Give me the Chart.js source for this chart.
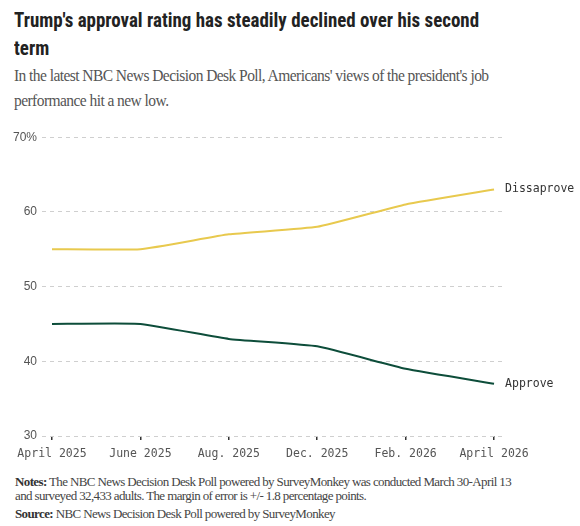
<!DOCTYPE html>
<html>
<head>
<meta charset="utf-8">
<script src="https://cdn.jsdelivr.net/npm/chart.js@4.4.1/dist/chart.umd.min.js"></script>
<style>
    body { margin: 0; background: #fff; width: 580px; height: 526px; position: relative; overflow: hidden; }
    .title { position: absolute; left: 14px; top: 7px; white-space: nowrap; font-family: "Liberation Sans Narrow", "Roboto", sans-serif; font-stretch: condensed; font-weight: bold; font-size: 19.5px; line-height: 28px; color: #222; transform: scaleX(0.972); transform-origin: left top; }
    .subtitle { position: absolute; left: 14px; top: 63px; white-space: nowrap; font-family: "Liberation Serif", serif; font-size: 16.5px; line-height: 25px; color: #555; letter-spacing: -0.6px; transform: scaleX(0.94); transform-origin: left top; }
    .chart-wrap { position: absolute; left: 0; top: 125px; width: 580px; height: 345px; }
    .notes { position: absolute; left: 15px; top: 475px; white-space: nowrap; font-family: "Liberation Serif", serif; font-size: 13px; line-height: 14px; color: #444; letter-spacing: -0.62px; }
    .notes p { margin: 0 0 4px 0; }
    .notes b { color: #333; }
</style>
</head>
<body>
<div class="title">Trump's approval rating has steadily declined over his second<br>term</div>
<div class="subtitle">In the latest NBC News Decision Desk Poll, Americans' views of the president's job<br>performance hit a new low.</div>
<div class="chart-wrap"><canvas id="chart"></canvas></div>
<div class="notes">
    <p><b>Notes:</b> The NBC News Decision Desk Poll powered by SurveyMonkey was conducted March 30-April 13<br>and surveyed 32,433 adults. The margin of error is +/- 1.8 percentage points.</p>
    <p><b>Source:</b> NBC News Decision Desk Poll powered by SurveyMonkey</p>
</div>

<script>
// Chart data
const categories = ['April 2025', 'June 2025', 'Aug. 2025', 'Dec. 2025', 'Feb. 2026', 'April 2026'];
const disapprove = [55, 55, 57, 58, 61, 63];
const approve = [45, 45, 43, 42, 39, 37];
const yTicks = [30, 40, 50, 60, 70];

const monoFont = '"DejaVu Sans Mono", "Liberation Mono", monospace';

function toPoints(values) {
    return values.map((v, i) => ({ x: i, y: v }));
}

// Draw series name at the end of each line
const endLabels = {
    id: 'endLabels',
    afterDatasetsDraw(chart) {
        const ctx = chart.ctx;
        ctx.save();
        ctx.font = '11.5px ' + monoFont;
        ctx.fillStyle = '#333';
        ctx.textBaseline = 'middle';
        chart.data.datasets.forEach((ds, i) => {
            const meta = chart.getDatasetMeta(i);
            const last = meta.data[meta.data.length - 1];
            ctx.fillText(ds.label, last.x + 11, last.y);
        });
        ctx.restore();
    }
};

new Chart(document.getElementById('chart'), {
    type: 'line',
    data: {
        datasets: [
            {
                label: 'Dissaprove',
                data: toPoints(disapprove),
                borderColor: '#e8c94e',
                borderWidth: 2,
                pointRadius: 0,
                tension: 0.12
            },
            {
                label: 'Approve',
                data: toPoints(approve),
                borderColor: '#0d4d3a',
                borderWidth: 2,
                pointRadius: 0,
                tension: 0.12
            }
        ]
    },
    options: {
        responsive: true,
        maintainAspectRatio: false,
        animation: false,
        layout: { padding: { top: 12, right: 78, left: 0, bottom: 0 } },
        plugins: {
            legend: { display: false },
            tooltip: { enabled: false }
        },
        scales: {
            x: {
                type: 'linear',
                min: -0.113,
                max: 5.09,
                afterFit(scale) { scale.height = 34; },
                afterBuildTicks(scale) {
                    scale.ticks = categories.map((c, i) => ({ value: i }));
                },
                grid: {
                    drawOnChartArea: false,
                    drawTicks: true,
                    tickLength: 4,
                    color: '#333',
                    lineWidth: 1.5
                },
                border: { display: false },
                ticks: {
                    padding: 7,
                    maxRotation: 0,
                    autoSkip: false,
                    color: '#555',
                    font: { family: monoFont, size: 11.5 },
                    callback: (v) => categories[v]
                }
            },
            y: {
                min: 30,
                max: 70,
                afterFit(scale) { scale.width = 42; },
                afterBuildTicks(scale) {
                    scale.ticks = yTicks.map(v => ({ value: v }));
                },
                grid: {
                    drawTicks: false,
                    color: '#cfcfcf',
                    lineWidth: 1
                },
                border: { display: false, dash: [4, 4] },
                ticks: {
                    padding: 5,
                    color: '#555',
                    font: { family: '"Liberation Sans", Arial, sans-serif', size: 12 },
                    callback: (v) => v === 70 ? v + '%' : v
                }
            }
        }
    },
    plugins: [endLabels]
});
</script>
</body>
</html>
